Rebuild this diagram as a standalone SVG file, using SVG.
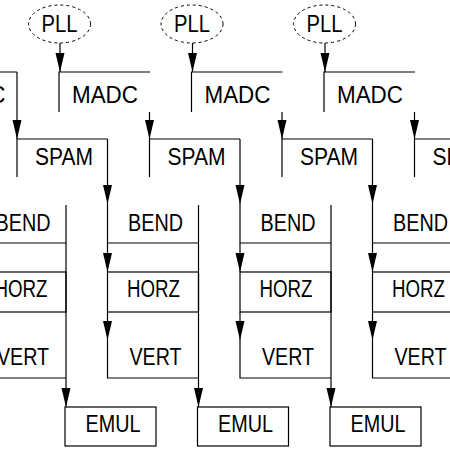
<svg xmlns="http://www.w3.org/2000/svg" width="450" height="450" viewBox="0 0 450 450">
<defs>
<style>
.ln{fill:none;stroke:#000;stroke-width:1.2}
.pll{fill:none;stroke:#000;stroke-width:1;stroke-dasharray:3,3}
.t{font-family:"Liberation Sans",Arial,sans-serif;font-size:23px;fill:#000;text-anchor:middle}
.a{fill:none;stroke:#000;stroke-width:1.2;marker-end:url(#ah)}
</style>
<marker id="ah" viewBox="-20 -5 20 10" refX="0" refY="0" markerWidth="20" markerHeight="10" markerUnits="userSpaceOnUse" orient="auto">
<path d="M0,0 L-19,-4.5 L-19,4.5 Z" fill="#000"/>
</marker>
</defs>
<rect width="450" height="450" fill="#fff"/>

<!-- Nodes -->
<g id="pll0"><ellipse class="pll" cx="59.5" cy="24" rx="31" ry="19"/><text class="t" x="59.5" y="32" textLength="36" lengthAdjust="spacingAndGlyphs">PLL</text></g>
<g id="pll1"><ellipse class="pll" cx="192" cy="24" rx="31" ry="19"/><text class="t" x="192" y="32" textLength="36" lengthAdjust="spacingAndGlyphs">PLL</text></g>
<g id="pll2"><ellipse class="pll" cx="324.5" cy="24" rx="31" ry="19"/><text class="t" x="324.5" y="32" textLength="36" lengthAdjust="spacingAndGlyphs">PLL</text></g>

<g id="madcm1"><path class="ln" d="M-73.5,112 V72 H17"/><text class="t" x="-27.5" y="103" textLength="66" lengthAdjust="spacingAndGlyphs">MADC</text></g>
<g id="madc0"><path class="ln" d="M59,112 V72 H150"/><text class="t" x="105" y="103" textLength="66" lengthAdjust="spacingAndGlyphs">MADC</text></g>
<g id="madc1"><path class="ln" d="M191.5,112 V72 H282.5"/><text class="t" x="237.5" y="103" textLength="66" lengthAdjust="spacingAndGlyphs">MADC</text></g>
<g id="madc2"><path class="ln" d="M324,112 V72 H415"/><text class="t" x="370" y="103" textLength="66" lengthAdjust="spacingAndGlyphs">MADC</text></g>

<g id="spamm1"><path class="ln" d="M17,177 V139 H107.5"/><text class="t" x="64" y="165" textLength="58" lengthAdjust="spacingAndGlyphs">SPAM</text></g>
<g id="spam0"><path class="ln" d="M149.5,177 V139 H240"/><text class="t" x="196.5" y="165" textLength="58" lengthAdjust="spacingAndGlyphs">SPAM</text></g>
<g id="spam1"><path class="ln" d="M282,177 V139 H372.5"/><text class="t" x="329" y="165" textLength="58" lengthAdjust="spacingAndGlyphs">SPAM</text></g>
<g id="spam2"><path class="ln" d="M414.5,177 V139 H505"/><text class="t" x="461.5" y="165" textLength="58" lengthAdjust="spacingAndGlyphs">SPAM</text></g>

<g id="bendm2"><path class="ln" d="M-25,204 V243 H66"/><text class="t" x="23" y="231" textLength="55" lengthAdjust="spacingAndGlyphs">BEND</text></g>
<g id="bendm1"><path class="ln" d="M107.5,204 V243 H198.5"/><text class="t" x="155.5" y="231" textLength="55" lengthAdjust="spacingAndGlyphs">BEND</text></g>
<g id="bend0"><path class="ln" d="M240,204 V243 H331"/><text class="t" x="288" y="231" textLength="55" lengthAdjust="spacingAndGlyphs">BEND</text></g>
<g id="bend1"><path class="ln" d="M372.5,204 V243 H463.5"/><text class="t" x="420.5" y="231" textLength="55" lengthAdjust="spacingAndGlyphs">BEND</text></g>

<g id="horzm2"><rect class="ln" x="-25" y="272" width="91" height="40"/><text class="t" x="21" y="297" textLength="53" lengthAdjust="spacingAndGlyphs">HORZ</text></g>
<g id="horzm1"><rect class="ln" x="107.5" y="272" width="91" height="40"/><text class="t" x="153.5" y="297" textLength="53" lengthAdjust="spacingAndGlyphs">HORZ</text></g>
<g id="horz0"><rect class="ln" x="240" y="272" width="91" height="40"/><text class="t" x="286" y="297" textLength="53" lengthAdjust="spacingAndGlyphs">HORZ</text></g>
<g id="horz1"><rect class="ln" x="372.5" y="272" width="91" height="40"/><text class="t" x="418.5" y="297" textLength="53" lengthAdjust="spacingAndGlyphs">HORZ</text></g>

<g id="vertm2"><path class="ln" d="M-25,340 V378 H66"/><text class="t" x="23" y="365" textLength="52" lengthAdjust="spacingAndGlyphs">VERT</text></g>
<g id="vertm1"><path class="ln" d="M107.5,340 V378 H198.5"/><text class="t" x="155.5" y="365" textLength="52" lengthAdjust="spacingAndGlyphs">VERT</text></g>
<g id="vert0"><path class="ln" d="M240,340 V378 H331"/><text class="t" x="288" y="365" textLength="52" lengthAdjust="spacingAndGlyphs">VERT</text></g>
<g id="vert1"><path class="ln" d="M372.5,340 V378 H463.5"/><text class="t" x="420.5" y="365" textLength="52" lengthAdjust="spacingAndGlyphs">VERT</text></g>

<g id="emulm2"><rect class="ln" x="65" y="407" width="91" height="39"/><text class="t" x="113" y="432" textLength="55" lengthAdjust="spacingAndGlyphs">EMUL</text></g>
<g id="emulm1"><rect class="ln" x="197.5" y="407" width="91" height="39"/><text class="t" x="245.5" y="432" textLength="55" lengthAdjust="spacingAndGlyphs">EMUL</text></g>
<g id="emul0"><rect class="ln" x="330" y="407" width="91" height="39"/><text class="t" x="378" y="432" textLength="55" lengthAdjust="spacingAndGlyphs">EMUL</text></g>

<!-- Connectors -->
<g id="connectors">
<line class="a" x1="60" y1="43" x2="60" y2="72"/>
<line class="a" x1="192.5" y1="43" x2="192.5" y2="72"/>
<line class="a" x1="325" y1="43" x2="325" y2="72"/>

<line class="a" x1="17" y1="72" x2="17" y2="139"/>
<line class="a" x1="149.5" y1="112" x2="149.5" y2="139"/>
<line class="a" x1="282" y1="112" x2="282" y2="139"/>
<line class="a" x1="414.5" y1="112" x2="414.5" y2="139"/>

<line class="a" x1="107.5" y1="139" x2="107.5" y2="204"/>
<line class="a" x1="240" y1="139" x2="240" y2="204"/>
<line class="a" x1="372.5" y1="139" x2="372.5" y2="204"/>

<line class="a" x1="107.5" y1="243" x2="107.5" y2="272"/>
<line class="a" x1="240" y1="243" x2="240" y2="272"/>
<line class="a" x1="372.5" y1="243" x2="372.5" y2="272"/>

<line class="a" x1="107.5" y1="312" x2="107.5" y2="340"/>
<line class="a" x1="240" y1="312" x2="240" y2="340"/>
<line class="a" x1="372.5" y1="312" x2="372.5" y2="340"/>

<line class="ln" x1="66" y1="205" x2="66" y2="378"/>
<line class="ln" x1="198.5" y1="205" x2="198.5" y2="378"/>
<line class="ln" x1="331" y1="205" x2="331" y2="378"/>
<line class="ln" x1="463.5" y1="205" x2="463.5" y2="378"/>

<line class="a" x1="66" y1="378" x2="66" y2="407"/>
<line class="a" x1="198.5" y1="378" x2="198.5" y2="407"/>
<line class="a" x1="331" y1="378" x2="331" y2="407"/>
</g>
</svg>
